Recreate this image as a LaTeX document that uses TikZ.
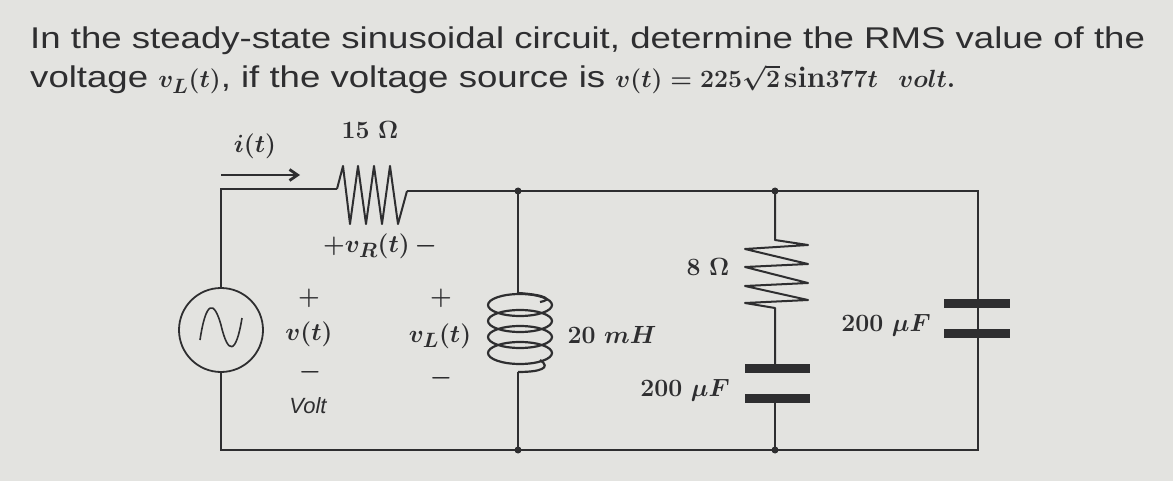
\documentclass[tikz,border=0pt]{standalone}
\usepackage{fontspec}
\usepackage{amsmath}
\setmainfont{Liberation Sans}
\newfontfamily\ttlfont[FakeStretch=1.22]{Liberation Sans}
\newfontfamily\lmrfont{Latin Modern Roman}
\usetikzlibrary{arrows.meta}
\definecolor{bg}{HTML}{E3E3E0}
\definecolor{ink}{HTML}{2E2E30}
\begin{document}
\begin{tikzpicture}[x=1pt,y=-1pt,
  wire/.style={ink,line width=1.6pt},
  plate/.style={ink,line width=9pt},
  lbl/.style={ink,font=\fontsize{31}{32}\selectfont\boldmath,inner sep=0pt},
  ttl/.style={ink,font=\ttlfont\fontsize{30}{32}\selectfont,inner sep=0pt,anchor=base west}]
\fill[bg] (0,0) rectangle (1173,481);
\useasboundingbox (0,0) rectangle (1173,481);
% title
\node[ttl] (t1) at (30,49) {In the steady-state sinusoidal circuit, determine the RMS value of the};
\node[ttl] (t2) at (30,88) {voltage $\boldsymbol{v_L(t)}$, if the voltage source is $\boldsymbol{v(t)=225\sqrt{2}}\,\text{\lmrfont\bfseries sin}\boldsymbol{377t\ \ volt.}$};
% coordinates
\coordinate (tl) at (221,189);
\coordinate (bl) at (221,450);
\coordinate (ra) at (337,189);
\coordinate (rb) at (407,191);
\coordinate (n1) at (518,191);
\coordinate (n2) at (775,191);
\coordinate (tr) at (978,191);
\coordinate (b1) at (518,450);
\coordinate (b2) at (775,450);
\coordinate (br) at (978,450);
\node[draw=ink,line width=1.8pt,circle,minimum size=84pt,inner sep=0pt] (src) at (221,330) {};
% sine in source
\draw[wire] (200,340) .. controls (206,300) and (214,300) .. (221,325) .. controls (228,355) and (236,355) .. (242,318);
% wires
\draw[wire] (src.north) -- (tl) -- (ra);
\draw[wire] (src.south) -- (bl) -- (br) -- (tr) -- (rb);
% resistor 15
\draw[ink,line width=2pt,line join=round] (ra) -- (343,166) -- (350,224) -- (358,166) -- (366,224) -- (374,166) -- (382,224) -- (390,166) -- (398,224) -- (rb);
% current arrow
\coordinate (ia) at (221,175);
\coordinate (ib) at (300,175);
\draw[ink,line width=2.8pt,-{Straight Barb[length=8pt,width=11pt]}] (ia) -- (ib);
% inductor
\coordinate (l1) at (518,293);
\coordinate (l2) at (518,372);
\draw[wire] (n1) -- (l1);
\draw[wire] (l2) -- (b1);
\foreach \yy in {305,321,337,353} \draw[ink,line width=2.2pt] (520,\yy) ellipse (32pt and 11pt);
\draw[ink,line width=2.2pt] (518,293) .. controls (548,295) and (552,300) .. (540,302);
\draw[ink,line width=2.2pt] (540,360) .. controls (552,368) and (540,372) .. (518,372);
% middle branch
\coordinate (c1) at (775,368);
\coordinate (c2) at (775,398);
\draw[ink,line width=2pt,line join=round] (n2) -- (775,240) -- (808,245) -- (745,249) -- (808,264) -- (745,267) -- (808,283) -- (745,286) -- (808,300) -- (745,303) -- (775,308) -- (c1);
\draw[plate] (745,368) -- (810,368);
\draw[plate] (745,398) -- (810,398);
\draw[wire] (c2) -- (b2);
% right cap
\draw[wire] (tr) -- (978,303);
\draw[wire] (978,333) -- (br);
\draw[plate] (944,303) -- (1010,303);
\draw[plate] (944,333) -- (1010,333);
% junction dots
\foreach \p in {n1,n2,b1,b2} \fill[ink] (\p) circle (3.5pt);
% labels
\node[lbl] (li) at (255,146) {$i(t)$};
\node[lbl] (l15) at (370,130) {$15\ \Omega$};
\node[lbl] (lvr) at (380,246) {$+v_R(t)\,-$};
\node[lbl] (lp1) at (309,298) {$+$};
\node[lbl] (lv) at (309,334) {$v(t)$};
\node[lbl] (lm1) at (310,372) {$-$};
\node[ink,font=\fontsize{22}{22}\selectfont\itshape,inner sep=0pt] (lvolt) at (308,406) {Volt};
\node[lbl] (lp2) at (441,298) {$+$};
\node[lbl] (lvl) at (440,336) {$v_L(t)$};
\node[lbl] (lm2) at (441,378) {$-$};
\node[lbl] (l20) at (612,335) {$20\ mH$};
\node[lbl] (l8) at (708,267) {$8\ \Omega$};
\node[lbl] (lc1) at (685,390) {$200\ \mu F$};
\node[lbl] (lc2) at (886,325) {$200\ \mu F$};
\end{tikzpicture}
\end{document}
